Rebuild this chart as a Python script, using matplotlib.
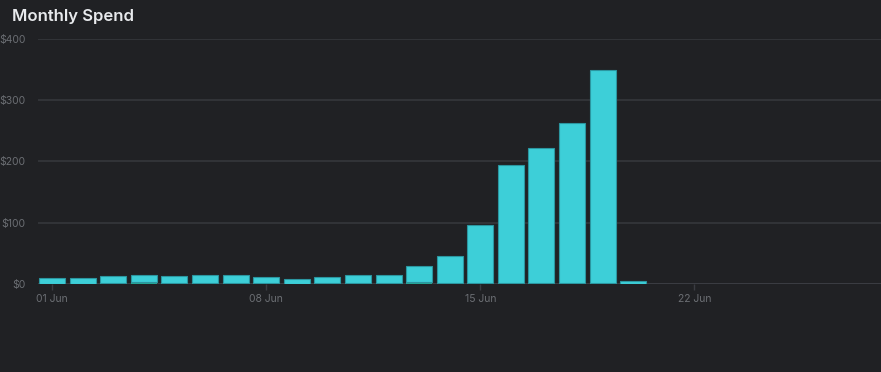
import matplotlib
matplotlib.use("Agg")
import matplotlib.pyplot as plt
import numpy as np

days = ["01 Jun", "02 Jun", "03 Jun", "04 Jun", "05 Jun", "06 Jun", "07 Jun",
        "08 Jun", "09 Jun", "10 Jun", "11 Jun", "12 Jun", "13 Jun", "14 Jun",
        "15 Jun", "16 Jun", "17 Jun", "18 Jun", "19 Jun", "20 Jun"]
base_spend = [0.5, 0.5, 2, 3, 1, 2, 1, 1, 0.5, 1, 1, 2, 3, 2, 1, 1, 1, 1, 1, 0]
total_spend = [10, 9, 13, 14, 13, 14, 15, 11, 8, 12, 14, 14, 30, 46, 97, 195, 222, 263, 350, 5]
tick_labels = ["01 Jun", "08 Jun", "15 Jun", "22 Jun"]
tick_pos = [0, 7, 14, 21]
y_ticks = [0, 100, 200, 300, 400]

bg = "#202124"
top_spend = [t - b for t, b in zip(total_spend, base_spend)]

fig = plt.figure(figsize=(8.81, 3.72), dpi=100, facecolor=bg)
ax = fig.add_axes([0.0431, 0.2366, 0.9569, 0.6586], facecolor=bg)

x = np.arange(len(days))
ax.bar(x, base_spend, width=0.85, color="#25a596", edgecolor="#25a596", linewidth=0, zorder=3)
ax.bar(x, top_spend, bottom=base_spend, width=0.85, color="#3dcfd8",
       edgecolor="#2b96a0", linewidth=0.8, zorder=3)

ax.set_ylim(0, 400)
ax.set_xlim(-0.46, 27.1)
ax.set_yticks(y_ticks)
ax.set_yticklabels([f"${v}" for v in y_ticks])
ax.set_xticks(tick_pos)
ax.set_xticklabels(tick_labels)

for v in y_ticks[1:]:
    ax.axhline(v, color="#35373c", linewidth=1.2, zorder=1)
ax.axhline(0, color="#3a3c42", linewidth=2.2, zorder=2)

for s in ax.spines.values():
    s.set_visible(False)
ax.tick_params(axis="y", length=0, pad=9, labelsize=7.5, labelcolor="#6b6e73")
ax.tick_params(axis="x", length=4, width=1, color="#3a3c42", pad=3, labelsize=7.5, labelcolor="#6b6e73")
for lab in ax.get_xticklabels() + ax.get_yticklabels():
    lab.set_fontfamily("Inter")

fig.text(12 / 881, 1 - 16 / 372, "Monthly Spend", color="#e8eaed", fontsize=12,
         fontweight="semibold", family="Inter", ha="left", va="center")

fig.savefig("out.png", dpi=100, facecolor=bg)
